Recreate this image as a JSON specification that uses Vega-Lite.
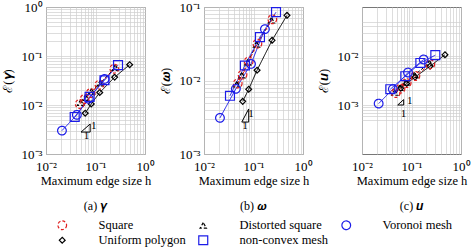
{
  "$schema": "https://vega.github.io/schema/vega-lite/v6.json",
  "background": "white",
  "padding": {"left": 0, "top": 0, "right": 4, "bottom": 2},
  "bounds": "flush",
  "spacing": 59,
  "datasets": {
    "errs": [
      {"panel": "g", "mesh": "Uniform polygon", "h": 0.49, "err": 0.0665},
      {"panel": "g", "mesh": "Uniform polygon", "h": 0.244, "err": 0.037},
      {"panel": "g", "mesh": "Uniform polygon", "h": 0.122, "err": 0.018},
      {"panel": "g", "mesh": "Uniform polygon", "h": 0.082, "err": 0.0105},
      {"panel": "g", "mesh": "Uniform polygon", "h": 0.062, "err": 0.0068},
      {"panel": "g", "mesh": "Distorted square", "h": 0.25, "err": 0.058},
      {"panel": "g", "mesh": "Distorted square", "h": 0.125, "err": 0.028},
      {"panel": "g", "mesh": "Distorted square", "h": 0.083, "err": 0.019},
      {"panel": "g", "mesh": "Distorted square", "h": 0.063, "err": 0.0142},
      {"panel": "g", "mesh": "Distorted square", "h": 0.05, "err": 0.0112},
      {"panel": "g", "mesh": "Square", "h": 0.24, "err": 0.055},
      {"panel": "g", "mesh": "Square", "h": 0.12, "err": 0.026},
      {"panel": "g", "mesh": "Square", "h": 0.08, "err": 0.0175},
      {"panel": "g", "mesh": "Square", "h": 0.06, "err": 0.0132},
      {"panel": "g", "mesh": "Square", "h": 0.048, "err": 0.0105},
      {"panel": "g", "mesh": "non-convex mesh", "h": 0.285, "err": 0.065},
      {"panel": "g", "mesh": "non-convex mesh", "h": 0.152, "err": 0.032},
      {"panel": "g", "mesh": "non-convex mesh", "h": 0.076, "err": 0.0146},
      {"panel": "g", "mesh": "non-convex mesh", "h": 0.038, "err": 0.0057},
      {"panel": "g", "mesh": "Voronoi mesh", "h": 0.153, "err": 0.034},
      {"panel": "g", "mesh": "Voronoi mesh", "h": 0.073, "err": 0.0134},
      {"panel": "g", "mesh": "Voronoi mesh", "h": 0.042, "err": 0.0063},
      {"panel": "g", "mesh": "Voronoi mesh", "h": 0.021, "err": 0.003},

      {"panel": "w", "mesh": "Uniform polygon", "h": 0.475, "err": 0.077},
      {"panel": "w", "mesh": "Uniform polygon", "h": 0.237, "err": 0.0352},
      {"panel": "w", "mesh": "Uniform polygon", "h": 0.118, "err": 0.0138},
      {"panel": "w", "mesh": "Uniform polygon", "h": 0.08, "err": 0.0076},
      {"panel": "w", "mesh": "Uniform polygon", "h": 0.0605, "err": 0.0052},
      {"panel": "w", "mesh": "Distorted square", "h": 0.23, "err": 0.066},
      {"panel": "w", "mesh": "Distorted square", "h": 0.115, "err": 0.031},
      {"panel": "w", "mesh": "Distorted square", "h": 0.077, "err": 0.0178},
      {"panel": "w", "mesh": "Distorted square", "h": 0.058, "err": 0.0118},
      {"panel": "w", "mesh": "Distorted square", "h": 0.046, "err": 0.0089},
      {"panel": "w", "mesh": "Square", "h": 0.24, "err": 0.068},
      {"panel": "w", "mesh": "Square", "h": 0.12, "err": 0.0317},
      {"panel": "w", "mesh": "Square", "h": 0.08, "err": 0.0182},
      {"panel": "w", "mesh": "Square", "h": 0.06, "err": 0.012},
      {"panel": "w", "mesh": "Square", "h": 0.048, "err": 0.0091},
      {"panel": "w", "mesh": "non-convex mesh", "h": 0.285, "err": 0.085},
      {"panel": "w", "mesh": "non-convex mesh", "h": 0.135, "err": 0.039},
      {"panel": "w", "mesh": "non-convex mesh", "h": 0.067, "err": 0.016},
      {"panel": "w", "mesh": "non-convex mesh", "h": 0.0335, "err": 0.0062},
      {"panel": "w", "mesh": "Voronoi mesh", "h": 0.17, "err": 0.05},
      {"panel": "w", "mesh": "Voronoi mesh", "h": 0.089, "err": 0.0168},
      {"panel": "w", "mesh": "Voronoi mesh", "h": 0.044, "err": 0.0077},
      {"panel": "w", "mesh": "Voronoi mesh", "h": 0.021, "err": 0.0031},

      {"panel": "u", "mesh": "Uniform polygon", "h": 0.475, "err": 0.0106},
      {"panel": "u", "mesh": "Uniform polygon", "h": 0.237, "err": 0.0062},
      {"panel": "u", "mesh": "Uniform polygon", "h": 0.118, "err": 0.0037},
      {"panel": "u", "mesh": "Uniform polygon", "h": 0.08, "err": 0.00275},
      {"panel": "u", "mesh": "Uniform polygon", "h": 0.0605, "err": 0.0022},
      {"panel": "u", "mesh": "Distorted square", "h": 0.23, "err": 0.0072},
      {"panel": "u", "mesh": "Distorted square", "h": 0.115, "err": 0.0041},
      {"panel": "u", "mesh": "Distorted square", "h": 0.077, "err": 0.0029},
      {"panel": "u", "mesh": "Distorted square", "h": 0.058, "err": 0.00225},
      {"panel": "u", "mesh": "Distorted square", "h": 0.046, "err": 0.0018},
      {"panel": "u", "mesh": "Square", "h": 0.24, "err": 0.0068},
      {"panel": "u", "mesh": "Square", "h": 0.12, "err": 0.0039},
      {"panel": "u", "mesh": "Square", "h": 0.08, "err": 0.0028},
      {"panel": "u", "mesh": "Square", "h": 0.06, "err": 0.00215},
      {"panel": "u", "mesh": "Square", "h": 0.048, "err": 0.00175},
      {"panel": "u", "mesh": "non-convex mesh", "h": 0.303, "err": 0.0104},
      {"panel": "u", "mesh": "non-convex mesh", "h": 0.151, "err": 0.0072},
      {"panel": "u", "mesh": "non-convex mesh", "h": 0.075, "err": 0.00387},
      {"panel": "u", "mesh": "non-convex mesh", "h": 0.0373, "err": 0.0021},
      {"panel": "u", "mesh": "Voronoi mesh", "h": 0.176, "err": 0.0085},
      {"panel": "u", "mesh": "Voronoi mesh", "h": 0.085, "err": 0.0046},
      {"panel": "u", "mesh": "Voronoi mesh", "h": 0.042, "err": 0.00211},
      {"panel": "u", "mesh": "Voronoi mesh", "h": 0.0217, "err": 0.00107}
    ],
    "slopes": [
      {"panel": "g", "k": 0, "h": 0.051, "err": 0.0028},
      {"panel": "g", "k": 1, "h": 0.078, "err": 0.0028},
      {"panel": "g", "k": 2, "h": 0.078, "err": 0.0041},
      {"panel": "g", "k": 3, "h": 0.051, "err": 0.0028},
      {"panel": "w", "k": 0, "h": 0.058, "err": 0.00272},
      {"panel": "w", "k": 1, "h": 0.08, "err": 0.00272},
      {"panel": "w", "k": 2, "h": 0.08, "err": 0.0041},
      {"panel": "w", "k": 3, "h": 0.058, "err": 0.00272},
      {"panel": "u", "k": 0, "h": 0.0526, "err": 0.001},
      {"panel": "u", "k": 1, "h": 0.0695, "err": 0.001},
      {"panel": "u", "k": 2, "h": 0.0695, "err": 0.00129},
      {"panel": "u", "k": 3, "h": 0.0526, "err": 0.001}
    ],
    "slopeLabels": [
      {"panel": "g", "h": 0.092, "err": 0.0037, "label": "1"},
      {"panel": "g", "h": 0.066, "err": 0.0023, "label": "1"},
      {"panel": "w", "h": 0.089, "err": 0.0035, "label": "1"},
      {"panel": "w", "h": 0.067, "err": 0.0024, "label": "1"},
      {"panel": "u", "h": 0.092, "err": 0.0012, "label": "1"},
      {"panel": "u", "h": 0.069, "err": 0.00066, "label": "1"}
    ]
  },
  "resolve": {
    "scale": {"x": "independent", "y": "independent", "color": "shared", "shape": "shared", "strokeDash": "shared", "size": "shared"},
    "axis": {"x": "independent", "y": "independent"}
  },
  "hconcat": [
    {
      "width": 99,
      "height": 147,
      "title": {"text": "(a) 𝜸", "orient": "bottom"},
      "layer": [
        {
          "data": {"name": "errs"},
          "transform": [{"filter": "datum.panel == 'g'"}],
          "mark": {"type": "line", "strokeWidth": 1},
          "encoding": {
            "x": {"field": "h", "type": "quantitative", "scale": {"type": "log", "domain": [0.01, 1]},
              "axis": {"title": "Maximum edge size h", "values": [0.01,0.02,0.03,0.04,0.05,0.06,0.07,0.08,0.09,0.1,0.2,0.3,0.4,0.5,0.6,0.7,0.8,0.9,1],
                "labelExpr": "abs(log(datum.value)/LN10 - round(log(datum.value)/LN10)) > 0.01 ? '' : round(log(datum.value)/LN10) == 0 ? '10⁰' : round(log(datum.value)/LN10) == -1 ? '10⁻¹' : round(log(datum.value)/LN10) == -2 ? '10⁻²' : '10⁻³'"}},
            "y": {"field": "err", "type": "quantitative", "scale": {"type": "log", "domain": [0.001, 1]},
              "axis": {"title": "ℰ(𝜸)", "values": [0.001,0.002,0.003,0.004,0.005,0.006,0.007,0.008,0.009,0.01,0.02,0.03,0.04,0.05,0.06,0.07,0.08,0.09,0.1,0.2,0.3,0.4,0.5,0.6,0.7,0.8,0.9,1],
                "labelExpr": "abs(log(datum.value)/LN10 - round(log(datum.value)/LN10)) > 0.01 ? '' : round(log(datum.value)/LN10) == 0 ? '10⁰' : round(log(datum.value)/LN10) == -1 ? '10⁻¹' : round(log(datum.value)/LN10) == -2 ? '10⁻²' : '10⁻³'"}},
            "color": {"field": "mesh", "type": "nominal", "title": null, "scale": {"domain": ["Square", "Uniform polygon", "Distorted square", "non-convex mesh", "Voronoi mesh"], "range": ["#e01e1e", "black", "black", "#1c1ce8", "#1c1ce8"]}},
            "strokeDash": {"field": "mesh", "type": "nominal", "title": null, "scale": {"domain": ["Square", "Uniform polygon", "Distorted square", "non-convex mesh", "Voronoi mesh"], "range": [[3, 2], [1, 0], [3, 2], [1, 0], [1, 0]]}},
            "order": {"field": "h", "type": "quantitative"}
          }
        },
        {
          "data": {"name": "errs"},
          "transform": [{"filter": "datum.panel == 'g'"}],
          "mark": {"type": "point", "filled": false, "strokeWidth": 1.2, "opacity": 1},
          "encoding": {
            "x": {"field": "h", "type": "quantitative"},
            "y": {"field": "err", "type": "quantitative"},
            "color": {"field": "mesh", "type": "nominal", "title": null, "scale": {"domain": ["Square", "Uniform polygon", "Distorted square", "non-convex mesh", "Voronoi mesh"], "range": ["#e01e1e", "black", "black", "#1c1ce8", "#1c1ce8"]}},
            "shape": {"field": "mesh", "type": "nominal", "title": null, "scale": {"domain": ["Square", "Uniform polygon", "Distorted square", "non-convex mesh", "Voronoi mesh"], "range": ["circle", "diamond", "triangle-up", "square", "circle"]}},
            "strokeDash": {"field": "mesh", "type": "nominal", "title": null, "scale": {"domain": ["Square", "Uniform polygon", "Distorted square", "non-convex mesh", "Voronoi mesh"], "range": [[3, 2], [1, 0], [3, 2], [1, 0], [1, 0]]}},
            "size": {"field": "mesh", "type": "nominal", "title": null, "scale": {"type": "ordinal", "domain": ["Square", "Uniform polygon", "Distorted square", "non-convex mesh", "Voronoi mesh"], "range": [75, 34, 40, 80, 75]}}
          }
        },
        {
          "data": {"name": "slopes"},
          "transform": [{"filter": "datum.panel == 'g'"}],
          "mark": {"type": "line", "color": "black", "strokeWidth": 1},
          "encoding": {
            "x": {"field": "h", "type": "quantitative"},
            "y": {"field": "err", "type": "quantitative"},
            "order": {"field": "k", "type": "quantitative"}
          }
        },
        {
          "data": {"name": "slopeLabels"},
          "transform": [{"filter": "datum.panel == 'g'"}],
          "mark": {"type": "text", "font": "Liberation Serif", "fontSize": 11, "color": "black"},
          "encoding": {
            "x": {"field": "h", "type": "quantitative"},
            "y": {"field": "err", "type": "quantitative"},
            "text": {"field": "label"}
          }
        }
      ]
    },
    {
      "width": 99,
      "height": 147,
      "title": {"text": "(b) 𝝎", "orient": "bottom"},
      "layer": [
        {
          "data": {"name": "errs"},
          "transform": [{"filter": "datum.panel == 'w'"}],
          "mark": {"type": "line", "strokeWidth": 1},
          "encoding": {
            "x": {"field": "h", "type": "quantitative", "scale": {"type": "log", "domain": [0.01, 1]},
              "axis": {"title": "Maximum edge size h", "values": [0.01,0.02,0.03,0.04,0.05,0.06,0.07,0.08,0.09,0.1,0.2,0.3,0.4,0.5,0.6,0.7,0.8,0.9,1],
                "labelExpr": "abs(log(datum.value)/LN10 - round(log(datum.value)/LN10)) > 0.01 ? '' : round(log(datum.value)/LN10) == 0 ? '10⁰' : round(log(datum.value)/LN10) == -1 ? '10⁻¹' : round(log(datum.value)/LN10) == -2 ? '10⁻²' : '10⁻³'"}},
            "y": {"field": "err", "type": "quantitative", "scale": {"type": "log", "domain": [0.001, 0.1]},
              "axis": {"title": "ℰ(𝝎)", "values": [0.001,0.002,0.003,0.004,0.005,0.006,0.007,0.008,0.009,0.01,0.02,0.03,0.04,0.05,0.06,0.07,0.08,0.09,0.1],
                "labelExpr": "abs(log(datum.value)/LN10 - round(log(datum.value)/LN10)) > 0.01 ? '' : round(log(datum.value)/LN10) == 0 ? '10⁰' : round(log(datum.value)/LN10) == -1 ? '10⁻¹' : round(log(datum.value)/LN10) == -2 ? '10⁻²' : '10⁻³'"}},
            "color": {"field": "mesh", "type": "nominal", "title": null, "scale": {"domain": ["Square", "Uniform polygon", "Distorted square", "non-convex mesh", "Voronoi mesh"], "range": ["#e01e1e", "black", "black", "#1c1ce8", "#1c1ce8"]}},
            "strokeDash": {"field": "mesh", "type": "nominal", "title": null, "scale": {"domain": ["Square", "Uniform polygon", "Distorted square", "non-convex mesh", "Voronoi mesh"], "range": [[3, 2], [1, 0], [3, 2], [1, 0], [1, 0]]}},
            "order": {"field": "h", "type": "quantitative"}
          }
        },
        {
          "data": {"name": "errs"},
          "transform": [{"filter": "datum.panel == 'w'"}],
          "mark": {"type": "point", "filled": false, "strokeWidth": 1.2, "opacity": 1},
          "encoding": {
            "x": {"field": "h", "type": "quantitative"},
            "y": {"field": "err", "type": "quantitative"},
            "color": {"field": "mesh", "type": "nominal", "title": null, "scale": {"domain": ["Square", "Uniform polygon", "Distorted square", "non-convex mesh", "Voronoi mesh"], "range": ["#e01e1e", "black", "black", "#1c1ce8", "#1c1ce8"]}},
            "shape": {"field": "mesh", "type": "nominal", "title": null, "scale": {"domain": ["Square", "Uniform polygon", "Distorted square", "non-convex mesh", "Voronoi mesh"], "range": ["circle", "diamond", "triangle-up", "square", "circle"]}},
            "strokeDash": {"field": "mesh", "type": "nominal", "title": null, "scale": {"domain": ["Square", "Uniform polygon", "Distorted square", "non-convex mesh", "Voronoi mesh"], "range": [[3, 2], [1, 0], [3, 2], [1, 0], [1, 0]]}},
            "size": {"field": "mesh", "type": "nominal", "title": null, "scale": {"type": "ordinal", "domain": ["Square", "Uniform polygon", "Distorted square", "non-convex mesh", "Voronoi mesh"], "range": [75, 34, 40, 80, 75]}}
          }
        },
        {
          "data": {"name": "slopes"},
          "transform": [{"filter": "datum.panel == 'w'"}],
          "mark": {"type": "line", "color": "black", "strokeWidth": 1},
          "encoding": {
            "x": {"field": "h", "type": "quantitative"},
            "y": {"field": "err", "type": "quantitative"},
            "order": {"field": "k", "type": "quantitative"}
          }
        },
        {
          "data": {"name": "slopeLabels"},
          "transform": [{"filter": "datum.panel == 'w'"}],
          "mark": {"type": "text", "font": "Liberation Serif", "fontSize": 11, "color": "black"},
          "encoding": {
            "x": {"field": "h", "type": "quantitative"},
            "y": {"field": "err", "type": "quantitative"},
            "text": {"field": "label"}
          }
        }
      ]
    },
    {
      "width": 99,
      "height": 147,
      "title": {"text": "(c) 𝒖", "orient": "bottom"},
      "layer": [
        {
          "data": {"name": "errs"},
          "transform": [{"filter": "datum.panel == 'u'"}],
          "mark": {"type": "line", "strokeWidth": 1},
          "encoding": {
            "x": {"field": "h", "type": "quantitative", "scale": {"type": "log", "domain": [0.01, 1]},
              "axis": {"title": "Maximum edge size h", "values": [0.01,0.02,0.03,0.04,0.05,0.06,0.07,0.08,0.09,0.1,0.2,0.3,0.4,0.5,0.6,0.7,0.8,0.9,1],
                "labelExpr": "abs(log(datum.value)/LN10 - round(log(datum.value)/LN10)) > 0.01 ? '' : round(log(datum.value)/LN10) == 0 ? '10⁰' : round(log(datum.value)/LN10) == -1 ? '10⁻¹' : round(log(datum.value)/LN10) == -2 ? '10⁻²' : '10⁻³'"}},
            "y": {"field": "err", "type": "quantitative", "scale": {"type": "log", "domain": [0.0005, 0.05]},
              "axis": {"title": "ℰ(𝒖)", "values": [0.0005,0.0006,0.0007,0.0008,0.0009,0.001,0.002,0.003,0.004,0.005,0.006,0.007,0.008,0.009,0.01,0.02,0.03,0.04,0.05],
                "labelExpr": "abs(log(datum.value)/LN10 - round(log(datum.value)/LN10)) > 0.01 ? '' : round(log(datum.value)/LN10) == 0 ? '10⁰' : round(log(datum.value)/LN10) == -1 ? '10⁻¹' : round(log(datum.value)/LN10) == -2 ? '10⁻²' : '10⁻³'"}},
            "color": {"field": "mesh", "type": "nominal", "title": null, "scale": {"domain": ["Square", "Uniform polygon", "Distorted square", "non-convex mesh", "Voronoi mesh"], "range": ["#e01e1e", "black", "black", "#1c1ce8", "#1c1ce8"]}},
            "strokeDash": {"field": "mesh", "type": "nominal", "title": null, "scale": {"domain": ["Square", "Uniform polygon", "Distorted square", "non-convex mesh", "Voronoi mesh"], "range": [[3, 2], [1, 0], [3, 2], [1, 0], [1, 0]]}},
            "order": {"field": "h", "type": "quantitative"}
          }
        },
        {
          "data": {"name": "errs"},
          "transform": [{"filter": "datum.panel == 'u'"}],
          "mark": {"type": "point", "filled": false, "strokeWidth": 1.2, "opacity": 1},
          "encoding": {
            "x": {"field": "h", "type": "quantitative"},
            "y": {"field": "err", "type": "quantitative"},
            "color": {"field": "mesh", "type": "nominal", "title": null, "scale": {"domain": ["Square", "Uniform polygon", "Distorted square", "non-convex mesh", "Voronoi mesh"], "range": ["#e01e1e", "black", "black", "#1c1ce8", "#1c1ce8"]}},
            "shape": {"field": "mesh", "type": "nominal", "title": null, "scale": {"domain": ["Square", "Uniform polygon", "Distorted square", "non-convex mesh", "Voronoi mesh"], "range": ["circle", "diamond", "triangle-up", "square", "circle"]}},
            "strokeDash": {"field": "mesh", "type": "nominal", "title": null, "scale": {"domain": ["Square", "Uniform polygon", "Distorted square", "non-convex mesh", "Voronoi mesh"], "range": [[3, 2], [1, 0], [3, 2], [1, 0], [1, 0]]}},
            "size": {"field": "mesh", "type": "nominal", "title": null, "scale": {"type": "ordinal", "domain": ["Square", "Uniform polygon", "Distorted square", "non-convex mesh", "Voronoi mesh"], "range": [75, 34, 40, 80, 75]}}
          }
        },
        {
          "data": {"name": "slopes"},
          "transform": [{"filter": "datum.panel == 'u'"}],
          "mark": {"type": "line", "color": "black", "strokeWidth": 1},
          "encoding": {
            "x": {"field": "h", "type": "quantitative"},
            "y": {"field": "err", "type": "quantitative"},
            "order": {"field": "k", "type": "quantitative"}
          }
        },
        {
          "data": {"name": "slopeLabels"},
          "transform": [{"filter": "datum.panel == 'u'"}],
          "mark": {"type": "text", "font": "Liberation Serif", "fontSize": 11, "color": "black"},
          "encoding": {
            "x": {"field": "h", "type": "quantitative"},
            "y": {"field": "err", "type": "quantitative"},
            "text": {"field": "label"}
          }
        }
      ]
    }
  ],
  "config": {
    "view": {"stroke": "#777", "strokeWidth": 1},
    "font": "Liberation Serif",
    "axis": {
      "labelFont": "Liberation Serif",
      "labelFontSize": 13,
      "labelColor": "black",
      "titleFont": "Liberation Serif",
      "titleFontSize": 12.5,
      "titleFontWeight": "normal",
      "titleColor": "black",
      "domain": false,
      "ticks": false,
      "grid": true,
      "gridColor": "#cfcfcf",
      "gridWidth": 0.7,
      "labelOverlap": false,
      "labelBound": false,
      "labelFlush": false
    },
    "axisY": {"titlePadding": 7, "labelPadding": 4},
    "axisX": {"titlePadding": 1, "labelPadding": 6},
    "title": {"font": "Liberation Serif", "fontSize": 12, "fontWeight": "normal", "color": "black", "offset": 14},
    "legend": {
      "orient": "none",
      "legendX": 10,
      "legendY": 212,
      "columns": 3,
      "labelFont": "Liberation Serif",
      "labelFontSize": 12.5,
      "labelColor": "black",
      "symbolStrokeWidth": 1.2,
      "rowPadding": 1,
      "columnPadding": 10,
      "labelAlign": "left",
      "labelOffset": 30
    }
  }
}
